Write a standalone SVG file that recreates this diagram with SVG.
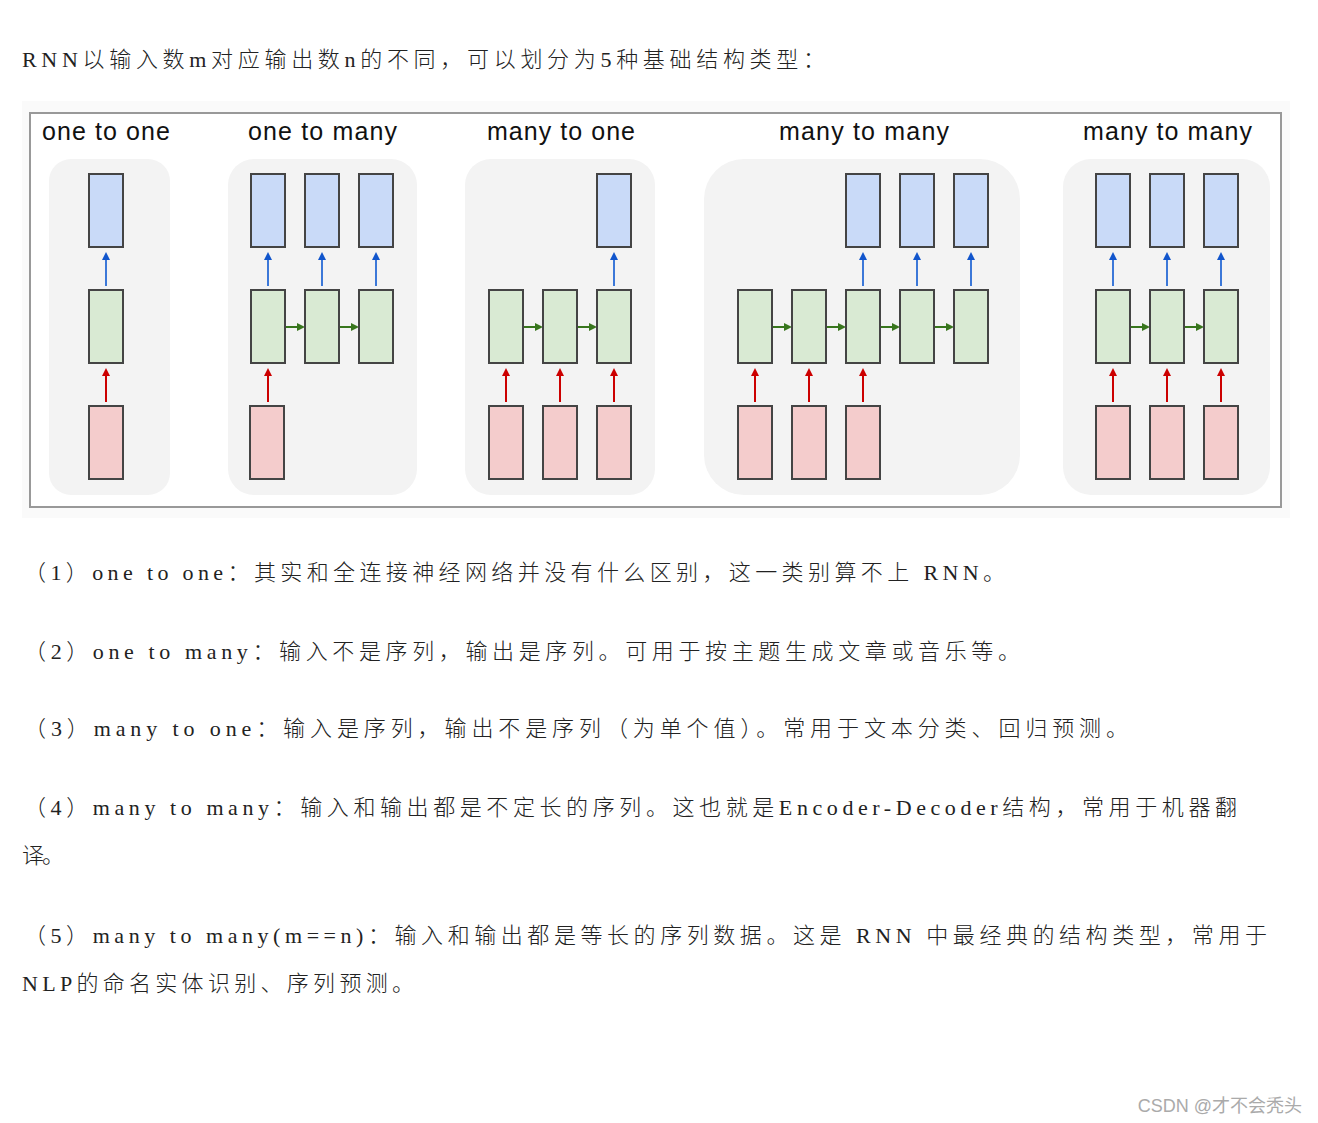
<svg xmlns="http://www.w3.org/2000/svg" width="1318" height="1123" viewBox="0 0 1318 1123">
<style>
.t{font-family:"Liberation Serif","Noto Sans CJK SC",serif;font-size:22px;fill:#222;font-weight:300}
.h{font-family:"Liberation Sans",Arial,sans-serif;font-size:25px;fill:#111}
.p{fill:#f3f3f3}
.b{fill:#c9daf8;stroke:#444;stroke-width:2}
.g{fill:#d9ead3;stroke:#444;stroke-width:2}
.r{fill:#f4cccc;stroke:#444;stroke-width:2}
.ab{stroke:#3c78d8;stroke-width:2;marker-end:url(#mb)}
.ar{stroke:#cc0000;stroke-width:2;marker-end:url(#mr)}
.ag{stroke:#38761d;stroke-width:2;marker-end:url(#mg)}
</style>
<defs>
<marker id="mb" markerWidth="8" markerHeight="8" refX="6" refY="4" orient="auto" markerUnits="userSpaceOnUse"><path d="M0,0L8,4L0,8z" fill="#1155cc"/></marker>
<marker id="mr" markerWidth="8" markerHeight="8" refX="6" refY="4" orient="auto" markerUnits="userSpaceOnUse"><path d="M0,0L8,4L0,8z" fill="#cc0000"/></marker>
<marker id="mg" markerWidth="8" markerHeight="8" refX="6" refY="4" orient="auto" markerUnits="userSpaceOnUse"><path d="M0,0L8,4L0,8z" fill="#38761d"/></marker>
</defs>
<rect width="1318" height="1123" fill="#fff"/>
<text class="t" x="22" y="67" textLength="803" lengthAdjust="spacing">RNN以输入数m对应输出数n的不同，可以划分为5种基础结构类型：</text>
<rect x="22" y="101" width="1268" height="417" fill="#fafafa"/>
<rect x="30" y="113" width="1251" height="394" fill="#fff" stroke="#999" stroke-width="2"/>
<g id="panels">
<rect class="p" x="49" y="159" width="121" height="336" rx="22"/>
<rect class="p" x="228" y="159" width="189" height="336" rx="26"/>
<rect class="p" x="465" y="159" width="190" height="336" rx="26"/>
<rect class="p" x="704" y="159" width="316" height="336" rx="40"/>
<rect class="p" x="1063" y="159" width="207" height="336" rx="28"/>
</g>
<g id="titles">
<text class="h" x="42" y="140" textLength="128">one to one</text>
<text class="h" x="248" y="140" textLength="149">one to many</text>
<text class="h" x="487" y="140" textLength="148">many to one</text>
<text class="h" x="779" y="140" textLength="170">many to many</text>
<text class="h" x="1083" y="140" textLength="169">many to many</text>
</g>
<g id="connectors">
<line class="ab" x1="106" y1="286" x2="106" y2="254"/>
<line class="ar" x1="106" y1="402" x2="106" y2="370"/>
<line class="ab" x1="268" y1="286" x2="268" y2="254"/><line class="ab" x1="322" y1="286" x2="322" y2="254"/><line class="ab" x1="376" y1="286" x2="376" y2="254"/>
<line class="ar" x1="268" y1="402" x2="268" y2="370"/>
<line class="ag" x1="285" y1="327" x2="303" y2="327"/><line class="ag" x1="339" y1="327" x2="357" y2="327"/>
<line class="ab" x1="614" y1="286" x2="614" y2="254"/>
<line class="ar" x1="506" y1="402" x2="506" y2="370"/><line class="ar" x1="560" y1="402" x2="560" y2="370"/><line class="ar" x1="614" y1="402" x2="614" y2="370"/>
<line class="ag" x1="523" y1="327" x2="541" y2="327"/><line class="ag" x1="577" y1="327" x2="595" y2="327"/>
<line class="ab" x1="863" y1="286" x2="863" y2="254"/><line class="ab" x1="917" y1="286" x2="917" y2="254"/><line class="ab" x1="971" y1="286" x2="971" y2="254"/>
<line class="ar" x1="755" y1="402" x2="755" y2="370"/><line class="ar" x1="809" y1="402" x2="809" y2="370"/><line class="ar" x1="863" y1="402" x2="863" y2="370"/>
<line class="ag" x1="772" y1="327" x2="790" y2="327"/><line class="ag" x1="826" y1="327" x2="844" y2="327"/><line class="ag" x1="880" y1="327" x2="898" y2="327"/><line class="ag" x1="934" y1="327" x2="952" y2="327"/>
<line class="ab" x1="1113" y1="286" x2="1113" y2="254"/><line class="ab" x1="1167" y1="286" x2="1167" y2="254"/><line class="ab" x1="1221" y1="286" x2="1221" y2="254"/>
<line class="ar" x1="1113" y1="402" x2="1113" y2="370"/><line class="ar" x1="1167" y1="402" x2="1167" y2="370"/><line class="ar" x1="1221" y1="402" x2="1221" y2="370"/>
<line class="ag" x1="1130" y1="327" x2="1148" y2="327"/><line class="ag" x1="1184" y1="327" x2="1202" y2="327"/>
</g>
<g id="n1"><rect class="b" x="89" y="174" width="34" height="73"/><rect class="g" x="89" y="290" width="34" height="73"/><rect class="r" x="89" y="406" width="34" height="73"/></g>
<g id="n2">
<rect class="b" x="251" y="174" width="34" height="73"/><rect class="b" x="305" y="174" width="34" height="73"/><rect class="b" x="359" y="174" width="34" height="73"/>
<rect class="g" x="251" y="290" width="34" height="73"/><rect class="g" x="305" y="290" width="34" height="73"/><rect class="g" x="359" y="290" width="34" height="73"/>
<rect class="r" x="250" y="406" width="34" height="73"/></g>
<g id="n3">
<rect class="b" x="597" y="174" width="34" height="73"/>
<rect class="g" x="489" y="290" width="34" height="73"/><rect class="g" x="543" y="290" width="34" height="73"/><rect class="g" x="597" y="290" width="34" height="73"/>
<rect class="r" x="489" y="406" width="34" height="73"/><rect class="r" x="543" y="406" width="34" height="73"/><rect class="r" x="597" y="406" width="34" height="73"/></g>
<g id="n4">
<rect class="b" x="846" y="174" width="34" height="73"/><rect class="b" x="900" y="174" width="34" height="73"/><rect class="b" x="954" y="174" width="34" height="73"/>
<rect class="g" x="738" y="290" width="34" height="73"/><rect class="g" x="792" y="290" width="34" height="73"/><rect class="g" x="846" y="290" width="34" height="73"/><rect class="g" x="900" y="290" width="34" height="73"/><rect class="g" x="954" y="290" width="34" height="73"/>
<rect class="r" x="738" y="406" width="34" height="73"/><rect class="r" x="792" y="406" width="34" height="73"/><rect class="r" x="846" y="406" width="34" height="73"/></g>
<g id="n5">
<rect class="b" x="1096" y="174" width="34" height="73"/><rect class="b" x="1150" y="174" width="34" height="73"/><rect class="b" x="1204" y="174" width="34" height="73"/>
<rect class="g" x="1096" y="290" width="34" height="73"/><rect class="g" x="1150" y="290" width="34" height="73"/><rect class="g" x="1204" y="290" width="34" height="73"/>
<rect class="r" x="1096" y="406" width="34" height="73"/><rect class="r" x="1150" y="406" width="34" height="73"/><rect class="r" x="1204" y="406" width="34" height="73"/></g>
<text class="t" x="24" y="580" textLength="981" lengthAdjust="spacing">（1）one to one：其实和全连接神经网络并没有什么区别，这一类别算不上 RNN。</text>
<text class="t" x="24" y="659" textLength="996" lengthAdjust="spacing">（2）one to many：输入不是序列，输出是序列。可用于按主题生成文章或音乐等。</text>
<text class="t" x="24" y="736" textLength="1104" lengthAdjust="spacing">（3）many to one：输入是序列，输出不是序列（为单个值）。常用于文本分类、回归预测。</text>
<text class="t" x="24" y="815" textLength="1213" lengthAdjust="spacing">（4）many to many：输入和输出都是不定长的序列。这也就是Encoder-Decoder结构，常用于机器翻</text>
<text class="t" x="22" y="863" textLength="42" lengthAdjust="spacing">译。</text>
<text class="t" x="24" y="943" textLength="1243" lengthAdjust="spacing">（5）many to many(m==n)：输入和输出都是等长的序列数据。这是 RNN 中最经典的结构类型，常用于</text>
<text class="t" x="22" y="991" textLength="392" lengthAdjust="spacing">NLP的命名实体识别、序列预测。</text>
<text x="1302" y="1112" text-anchor="end" font-family="'Liberation Sans','Noto Sans CJK SC',sans-serif" font-size="18" fill="#aaa">CSDN @才不会秃头</text>
</svg>
